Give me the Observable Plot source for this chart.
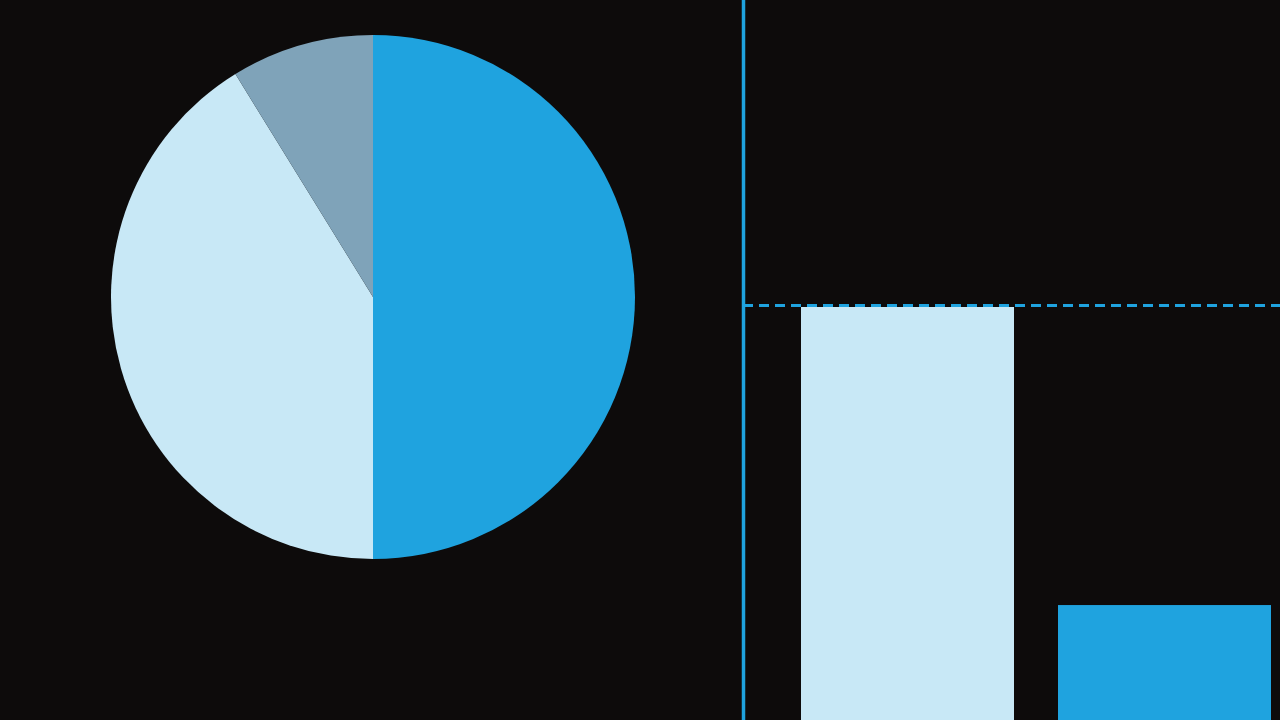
<!DOCTYPE html>
<html>
<head>
<meta charset="utf-8">
<script src="https://cdn.jsdelivr.net/npm/d3@7"></script>
<script src="https://cdn.jsdelivr.net/npm/@observablehq/plot@0.6"></script>
<style>
  html, body { margin: 0; padding: 0; background: #0d0b0b; overflow: hidden; }
  #chart { width: 1280px; height: 720px; }
</style>
</head>
<body>
<div id="chart"></div>
<script>
// Pie data
const pieCategories = ["Blue", "Light", "Gray"];
const pieValues = [50, 41.2, 8.8];
// Bar data
const barCategories = ["Light", "Blue"];
const barValues = [60, 16.7];
const referenceValue = 60.3;
// Colours
const categoryColors = ["#1fa3df", "#c8e8f6", "#7fa3b9"];

const pieData = pieCategories.map((c, i) => ({category: c, value: pieValues[i]}));
const barData = barCategories.map((c, i) => ({category: c, value: barValues[i]}));

function pieMark(index, scales, values, dimensions) {
  const ns = "http://www.w3.org/2000/svg";
  const g = document.createElementNS(ns, "g");
  const cx = 373, cy = 297, r = 262;
  g.setAttribute("transform", `translate(${cx},${cy})`);
  const arcs = d3.pie().sort(null).value(d => d.value)(pieData);
  const arc = d3.arc().innerRadius(0).outerRadius(r);
  for (const a of arcs) {
    const p = document.createElementNS(ns, "path");
    p.setAttribute("d", arc(a));
    p.setAttribute("fill", scales.color(a.data.category));
    g.appendChild(p);
  }
  return g;
}

const plot = Plot.plot({
  width: 1280,
  height: 720,
  marginLeft: 743,
  marginRight: 0,
  marginTop: 0,
  marginBottom: 0,
  style: {background: "#0d0b0b"},
  x: {domain: barCategories, range: [801, 1272], paddingInner: 0.17, paddingOuter: 0, axis: null},
  y: {domain: [0, 60], range: [720, 307], axis: null},
  color: {domain: pieCategories, range: categoryColors},
  marks: [
    pieMark,
    Plot.barY(barData, {x: "category", y: "value", fill: "category"}),
    Plot.ruleY([referenceValue], {stroke: "#1fa3df", strokeWidth: 3, strokeDasharray: "10,6"}),
    Plot.frame({anchor: "left", stroke: "#1fa3df", strokeWidth: 3.5})
  ]
});
document.getElementById("chart").appendChild(plot);
</script>
</body>
</html>
